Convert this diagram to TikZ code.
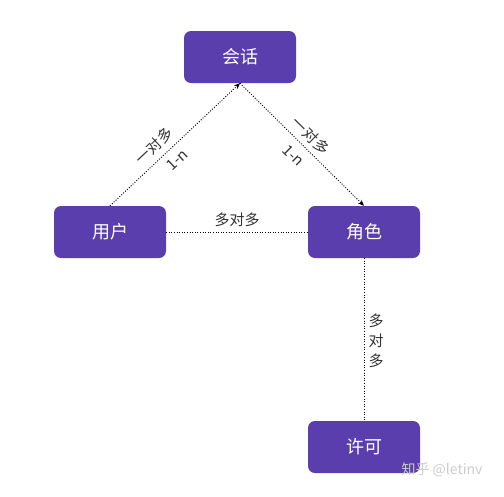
\documentclass[tikz,border=0pt]{standalone}
\usepackage{fontspec}
\setmainfont{Noto Sans CJK SC}
\usetikzlibrary{arrows.meta}
\definecolor{boxpurple}{RGB}{91,62,174}
\definecolor{labelgray}{RGB}{50,50,50}
\tikzset{
  rolebox/.style={draw=none, fill=boxpurple, rounded corners=7pt, minimum width=112pt, minimum height=52pt, inner sep=0pt, text=white, font=\fontsize{18pt}{20pt}\selectfont},
  link/.style={draw=black, line width=0.9pt, dash pattern=on 1pt off 1.6pt},
  arr/.style={-{Stealth[length=6pt,width=5pt]}},
  lab/.style={text=labelgray, font=\fontsize{15pt}{17pt}\selectfont, inner sep=1pt}
}
\begin{document}
\begin{tikzpicture}[x=1pt,y=-1pt]
\useasboundingbox (0,0) rectangle (504,496);
\node[rolebox] (hh) at (240,57) {会话};
\node[rolebox] (yh) at (110,232) {用户};
\node[rolebox] (js) at (364,232) {角色};
\node[rolebox] (xk) at (364,447) {许可};
\draw[link,arr] (yh.north) -- (hh.south)
  node[lab,pos=0.41,sloped,above=5pt] (l1a) {一对多}
  node[lab,pos=0.45,sloped,below=6pt] (l1b) {1-n};
\draw[link,arr] (hh.south) -- (js.north)
  node[lab,pos=0.50,sloped,above=4pt] (l2a) {一对多}
  node[lab,pos=0.51,sloped,below=7pt] (l2b) {1-n};
\draw[link] (yh.east) -- (js.west)
  node[lab,midway,above=4pt] (l3) {多对多};
\draw[link] (js.south) -- (xk.north);
\node[lab,align=center,font=\fontsize{15pt}{20pt}\selectfont] (l4) at (376,341) {多\\对\\多};
\node[text=gray!40,font=\fontsize{14pt}{16pt}\selectfont,anchor=west] (wm) at (398,470) {知乎 @letinv};
\end{tikzpicture}
\end{document}
